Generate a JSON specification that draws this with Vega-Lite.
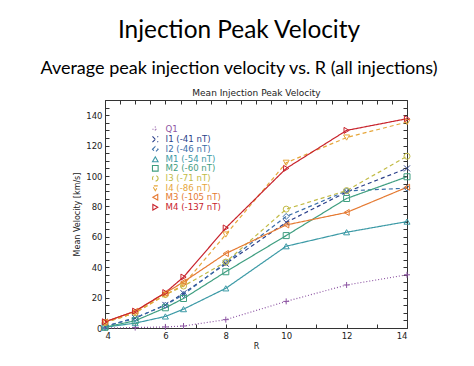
{
  "$schema": "https://vega.github.io/schema/vega-lite/v6.json",
  "width": 302,
  "height": 228,
  "autosize": {"type": "none"},
  "padding": {"left": 105, "top": 100, "right": 67, "bottom": 38},
  "background": "white",
  "title": {
    "text": "Injection Peak Velocity",
    "subtitle": "Average peak injection velocity vs. R (all injections)",
    "font": "Lato",
    "fontSize": 24.4,
    "fontWeight": "normal",
    "color": "black",
    "subtitleFont": "Lato",
    "subtitleFontSize": 18,
    "subtitleColor": "black",
    "subtitlePadding": 16,
    "anchor": "middle",
    "dx": -17,
    "offset": 10
  },
  "config": {
    "view": {"stroke": null},
    "axis": {
      "labelFont": "DejaVu Sans",
      "titleFont": "DejaVu Sans",
      "labelFontSize": 8.5,
      "titleFontSize": 8,
      "titleFontWeight": "normal",
      "labelColor": "#222",
      "titleColor": "#222",
      "domainColor": "#333",
      "tickColor": "#333",
      "grid": false,
      "tickSize": -4,
      "labelPadding": 7
    },
    "legend": {
      "title": null,
      "orient": "none",
      "legendX": 46,
      "legendY": 25,
      "labelFont": "DejaVu Sans",
      "labelFontSize": 8.6,
      "symbolSize": 32,
      "symbolStrokeWidth": 1.1,
      "rowPadding": -1.8,
      "labelOffset": 6
    }
  },
  "data": {
    "values": [
      {"series": "Q1", "R": 4, "v": 0}, {"series": "Q1", "R": 5, "v": 0.3}, {"series": "Q1", "R": 6, "v": 0.7}, {"series": "Q1", "R": 6.6, "v": 1.3}, {"series": "Q1", "R": 8, "v": 5.5}, {"series": "Q1", "R": 10, "v": 17.5}, {"series": "Q1", "R": 12, "v": 28.3}, {"series": "Q1", "R": 14, "v": 35},
      {"series": "I1 (-41 nT)", "R": 4, "v": 1}, {"series": "I1 (-41 nT)", "R": 5, "v": 6.5}, {"series": "I1 (-41 nT)", "R": 6, "v": 15.2}, {"series": "I1 (-41 nT)", "R": 6.6, "v": 22.9}, {"series": "I1 (-41 nT)", "R": 8, "v": 42.3}, {"series": "I1 (-41 nT)", "R": 10, "v": 69.5}, {"series": "I1 (-41 nT)", "R": 12, "v": 89.5}, {"series": "I1 (-41 nT)", "R": 14, "v": 105},
      {"series": "I2 (-46 nT)", "R": 4, "v": 1}, {"series": "I2 (-46 nT)", "R": 5, "v": 6.7}, {"series": "I2 (-46 nT)", "R": 6, "v": 15}, {"series": "I2 (-46 nT)", "R": 6.6, "v": 22}, {"series": "I2 (-46 nT)", "R": 8, "v": 43}, {"series": "I2 (-46 nT)", "R": 10, "v": 73.4}, {"series": "I2 (-46 nT)", "R": 12, "v": 90.2}, {"series": "I2 (-46 nT)", "R": 14, "v": 92},
      {"series": "M1 (-54 nT)", "R": 4, "v": 0.5}, {"series": "M1 (-54 nT)", "R": 5, "v": 3.2}, {"series": "M1 (-54 nT)", "R": 6, "v": 7.6}, {"series": "M1 (-54 nT)", "R": 6.6, "v": 12.4}, {"series": "M1 (-54 nT)", "R": 8, "v": 26.1}, {"series": "M1 (-54 nT)", "R": 10, "v": 53.8}, {"series": "M1 (-54 nT)", "R": 12, "v": 63}, {"series": "M1 (-54 nT)", "R": 14, "v": 70},
      {"series": "M2 (-60 nT)", "R": 4, "v": 0.5}, {"series": "M2 (-60 nT)", "R": 5, "v": 4.8}, {"series": "M2 (-60 nT)", "R": 6, "v": 13.3}, {"series": "M2 (-60 nT)", "R": 6.6, "v": 19.4}, {"series": "M2 (-60 nT)", "R": 8, "v": 37}, {"series": "M2 (-60 nT)", "R": 10, "v": 60.8}, {"series": "M2 (-60 nT)", "R": 12, "v": 85.2}, {"series": "M2 (-60 nT)", "R": 14, "v": 99.5},
      {"series": "I3 (-71 nT)", "R": 4, "v": 3.5}, {"series": "I3 (-71 nT)", "R": 5, "v": 10}, {"series": "I3 (-71 nT)", "R": 6, "v": 22}, {"series": "I3 (-71 nT)", "R": 6.6, "v": 27.6}, {"series": "I3 (-71 nT)", "R": 8, "v": 43.4}, {"series": "I3 (-71 nT)", "R": 10, "v": 78.2}, {"series": "I3 (-71 nT)", "R": 12, "v": 90.4}, {"series": "I3 (-71 nT)", "R": 14, "v": 113},
      {"series": "I4 (-86 nT)", "R": 4, "v": 3.5}, {"series": "I4 (-86 nT)", "R": 5, "v": 10}, {"series": "I4 (-86 nT)", "R": 6, "v": 21.6}, {"series": "I4 (-86 nT)", "R": 6.6, "v": 28.6}, {"series": "I4 (-86 nT)", "R": 8, "v": 61.5}, {"series": "I4 (-86 nT)", "R": 10, "v": 108.7}, {"series": "I4 (-86 nT)", "R": 12, "v": 125.3}, {"series": "I4 (-86 nT)", "R": 14, "v": 135.5},
      {"series": "M3 (-105 nT)", "R": 4, "v": 4}, {"series": "M3 (-105 nT)", "R": 5, "v": 11}, {"series": "M3 (-105 nT)", "R": 6, "v": 23}, {"series": "M3 (-105 nT)", "R": 6.6, "v": 30.3}, {"series": "M3 (-105 nT)", "R": 8, "v": 49}, {"series": "M3 (-105 nT)", "R": 10, "v": 67.8}, {"series": "M3 (-105 nT)", "R": 12, "v": 76}, {"series": "M3 (-105 nT)", "R": 14, "v": 92.6},
      {"series": "M4 (-137 nT)", "R": 4, "v": 4.1}, {"series": "M4 (-137 nT)", "R": 5, "v": 11.1}, {"series": "M4 (-137 nT)", "R": 6, "v": 23.3}, {"series": "M4 (-137 nT)", "R": 6.6, "v": 33.5}, {"series": "M4 (-137 nT)", "R": 8, "v": 65.8}, {"series": "M4 (-137 nT)", "R": 10, "v": 105}, {"series": "M4 (-137 nT)", "R": 12, "v": 130}, {"series": "M4 (-137 nT)", "R": 14, "v": 137.7}
    ]
  },
  "resolve": {"axis": {"x": "independent", "y": "independent"}},
  "layer": [
    {
      "mark": {"type": "line", "strokeWidth": 1.2},
      "encoding": {
        "x": {
          "field": "R", "type": "quantitative",
          "scale": {"domain": [4, 14], "nice": false, "zero": false},
          "axis": {
            "orient": "bottom",
            "title": "R",
            "titlePadding": 3,
            "format": "d",
            "values": [4, 4.5, 5, 5.5, 6, 6.5, 7, 7.5, 8, 8.5, 9, 9.5, 10, 10.5, 11, 11.5, 12, 12.5, 13, 13.5, 14],
            "labelExpr": "datum.value % 2 == 0 ? datum.label : ''"
          }
        },
        "y": {
          "field": "v", "type": "quantitative",
          "scale": {"domain": [0, 150], "nice": false},
          "axis": {
            "orient": "left",
            "title": "Mean Velocity [km/s]",
            "titlePadding": 4,
            "values": [0, 5, 10, 15, 20, 25, 30, 35, 40, 45, 50, 55, 60, 65, 70, 75, 80, 85, 90, 95, 100, 105, 110, 115, 120, 125, 130, 135, 140, 145, 150],
            "labelExpr": "datum.value % 20 == 0 ? datum.label : ''"
          }
        },
        "color": {
          "field": "series", "type": "nominal",
          "scale": {
            "domain": ["Q1", "I1 (-41 nT)", "I2 (-46 nT)", "M1 (-54 nT)", "M2 (-60 nT)", "I3 (-71 nT)", "I4 (-86 nT)", "M3 (-105 nT)", "M4 (-137 nT)"],
            "range": ["#8d55a3", "#2a3f8a", "#3a6ea8", "#3c9aa6", "#3f9e80", "#c2bb45", "#e6a63a", "#e57a32", "#c8232c"]
          },
          "legend": {
            "encode": {
              "labels": {"update": {"fill": {"scale": "color", "field": "value"}}},
              "symbols": {"update": {"strokeDash": {"value": [1, 0]}}}
            }
          }
        },
        "strokeDash": {
          "field": "series", "type": "nominal",
          "scale": {
            "domain": ["Q1", "I1 (-41 nT)", "I2 (-46 nT)", "M1 (-54 nT)", "M2 (-60 nT)", "I3 (-71 nT)", "I4 (-86 nT)", "M3 (-105 nT)", "M4 (-137 nT)"],
            "range": [[1, 2], [4, 3], [4, 3], [1, 0], [1, 0], [4, 3], [4, 3], [1, 0], [1, 0]]
          },
          "legend": null
        }
      }
    },
    {
      "mark": {"type": "point", "filled": false, "size": 36, "strokeWidth": 1, "opacity": 1},
      "encoding": {
        "x": {
          "field": "R", "type": "quantitative",
          "axis": {
            "orient": "top",
            "title": "Mean Injection Peak Velocity",
            "titleFontSize": 9,
            "titlePadding": 2,
            "labels": false,
            "values": [4, 4.5, 5, 5.5, 6, 6.5, 7, 7.5, 8, 8.5, 9, 9.5, 10, 10.5, 11, 11.5, 12, 12.5, 13, 13.5, 14]
          }
        },
        "y": {
          "field": "v", "type": "quantitative",
          "axis": {
            "orient": "right",
            "title": null,
            "labels": false,
            "values": [0, 5, 10, 15, 20, 25, 30, 35, 40, 45, 50, 55, 60, 65, 70, 75, 80, 85, 90, 95, 100, 105, 110, 115, 120, 125, 130, 135, 140, 145, 150]
          }
        },
        "color": {
          "field": "series", "type": "nominal",
          "legend": {
            "encode": {
              "labels": {"update": {"fill": {"scale": "color", "field": "value"}}},
              "symbols": {"update": {"strokeDash": {"value": [1, 0]}}}
            }
          }
        },
        "shape": {
          "field": "series", "type": "nominal",
          "scale": {
            "domain": ["Q1", "I1 (-41 nT)", "I2 (-46 nT)", "M1 (-54 nT)", "M2 (-60 nT)", "I3 (-71 nT)", "I4 (-86 nT)", "M3 (-105 nT)", "M4 (-137 nT)"],
            "range": ["M-1,0L1,0M0,-1L0,1", "M-1,-1L1,1M-1,1L1,-1", "diamond", "triangle-up", "square", "circle", "triangle-down", "triangle-left", "triangle-right"]
          },
          "legend": {
            "encode": {
              "labels": {"update": {"fill": {"scale": "color", "field": "value"}}},
              "symbols": {"update": {"strokeDash": {"value": [1, 0]}}}
            }
          }
        }
      }
    }
  ]
}
